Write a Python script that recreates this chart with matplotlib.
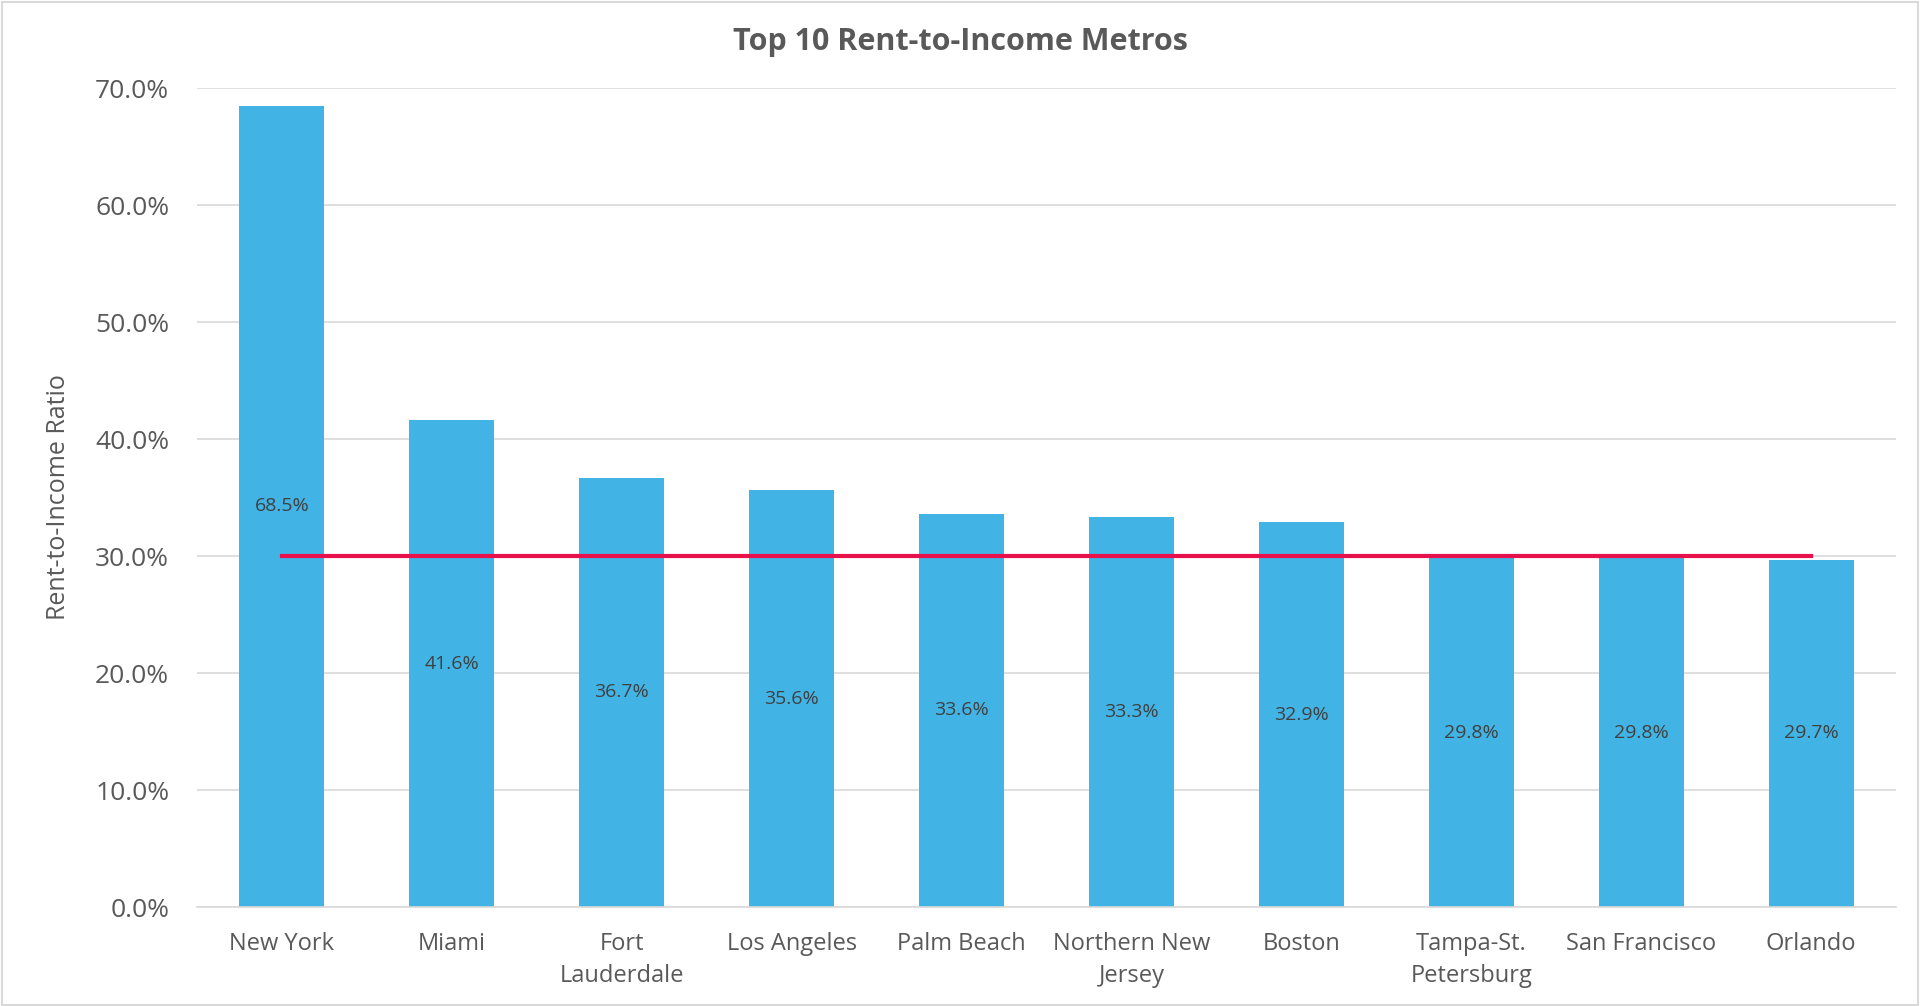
import matplotlib.pyplot as plt
from matplotlib.ticker import FuncFormatter

plt.rcParams['font.family'] = ['Open Sans', 'DejaVu Sans']

metros = ['New York', 'Miami', 'Fort\nLauderdale', 'Los Angeles', 'Palm Beach',
          'Northern New\nJersey', 'Boston', 'Tampa-St.\nPetersburg', 'San Francisco', 'Orlando']
ratio = [68.5, 41.6, 36.7, 35.6, 33.6, 33.3, 32.9, 29.8, 29.8, 29.7]
threshold = [30.0] * len(metros)

grey = '#595959'
fig = plt.figure(figsize=(19.2, 10.06), dpi=100)
ax = fig.add_axes([0.1026, 0.0984, 0.885, 0.8141])

xs = range(len(metros))
ax.bar(xs, ratio, width=0.5, color='#41B4E5', zorder=2)
ax.plot(xs, threshold, color='#E8114B', lw=3, zorder=3)

# data labels sit in the middle of each bar, as in Excel
for x, v in zip(xs, ratio):
    ax.text(x, v / 2, f'{v:.1f}%', ha='center', va='center', fontsize=14, color='#404040', zorder=4)

ax.set_xlim(-0.5, len(metros) - 0.5)
ax.set_ylim(0, 70)
ax.set_yticks(range(0, 71, 10))
ax.yaxis.set_major_formatter(FuncFormatter(lambda v, p: f'{v:.1f}%'))
ax.set_xticks(list(xs))
ax.set_xticklabels(metros, fontsize=17, color=grey, linespacing=1.45)
ax.tick_params(axis='y', labelsize=19, labelcolor=grey, length=0, pad=20)
ax.tick_params(axis='x', length=0, pad=18)
ax.grid(axis='y', color='#D9D9D9', lw=1.2, zorder=0)
for s in ['top', 'right', 'left']:
    ax.spines[s].set_visible(False)
ax.spines['bottom'].set_color('#D9D9D9')
ax.spines['bottom'].set_linewidth(1.2)

ax.set_ylabel('Rent-to-Income Ratio', fontsize=18, color=grey)
ax.yaxis.set_label_coords(-0.074, 0.5)
fig.text(0.5, 0.958, 'Top 10 Rent-to-Income Metros', ha='center', va='center',
         fontsize=22, fontweight='bold', color=grey)

fig.patches.append(plt.Rectangle((0.001, 0.001), 0.998, 0.997, transform=fig.transFigure,
                                 fill=False, edgecolor='#D9D9D9', lw=1.5))

fig.savefig('out.png', dpi=100)
